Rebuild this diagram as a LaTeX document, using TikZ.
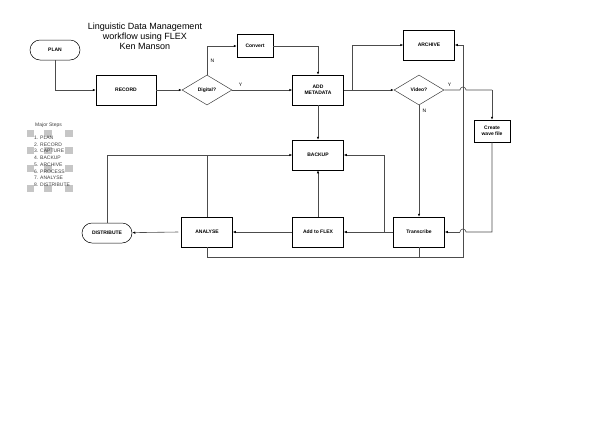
\documentclass[tikz,border=0pt]{standalone}
\usepackage{fontspec}
\setmainfont{Liberation Sans}
\usetikzlibrary{shapes.geometric,arrows.meta}
\begin{document}
\begin{tikzpicture}[x=1pt,y=-1pt,
  box/.style={draw,line width=0.5pt,minimum width=51pt,minimum height=30pt,font=\fontsize{5}{6}\selectfont\bfseries,align=center,inner sep=1pt},
  sbox/.style={box,minimum width=36pt,minimum height=23pt},
  term/.style={draw,line width=0.5pt,rounded corners=10pt,minimum width=50pt,minimum height=20pt,font=\fontsize{5}{6}\selectfont\bfseries},
  dec/.style={draw,gray!50!black,line width=0.5pt,diamond,aspect=1.7,minimum width=50pt,minimum height=30pt,inner sep=0pt,text=black,font=\fontsize{5}{6}\selectfont\bfseries},
  con/.style={draw=gray!60!black,line width=0.6pt,-{Latex[length=3pt,width=2.5pt,color=black]}},
  ln/.style={draw=gray!60!black,line width=0.6pt},
  lab/.style={font=\fontsize{5}{6}\selectfont}]
\useasboundingbox (0,0) rectangle (600,424);
\node[align=center,font=\fontsize{9}{10}\selectfont] (title) at (145,36) {Linguistic Data Management\\workflow using FLEX\\Ken Manson};
\node[term] (plan) at (55,50) {PLAN};
\node[box,minimum width=60pt] (record) at (126,90) {RECORD};
\node[dec] (dig) at (207,90) {Digital?};
\node[sbox] (conv) at (255,46) {Convert};
\node[box] (meta) at (318,90) {ADD\\METADATA};
\node[box] (arch) at (429,45) {ARCHIVE};
\node[dec] (vid) at (419,90) {Video?};
\node[sbox,minimum height=22pt] (wave) at (492,131) {Create\\wave file};
\node[box] (backup) at (318,155) {BACKUP};
\node[box] (flex) at (318,232) {Add to FLEX};
\node[box] (trans) at (419,232) {Transcribe};
\node[box] (anal) at (207,232) {ANALYSE};
\node[term] (dist) at (107,233) {DISTRIBUTE};
\foreach \y in {130,147,165,185}{\fill[gray!45] (27,\y) rectangle (34,\y+7);\fill[gray!45] (44,\y) rectangle (52,\y+7);\fill[gray!45] (65,\y) rectangle (73,\y+7);}
\node[align=left,anchor=north west,text=gray!50!black,inner sep=0pt,font=\fontsize{5}{6.7}\selectfont] (steps) at (34,123) {\hspace*{1pt}Major Steps\\[6pt]1. PLAN\\2. RECORD\\3. CAPTURE\\4. BACKUP\\5. ARCHIVE\\6. PROCESS\\7. ANALYSE\\8. DISTRIBUTE};
% connectors
\draw[con] (plan.south) |- (record.west);
\draw[con] (record) -- (dig);
\draw[con] (dig) -- node[lab,pos=0.05,above right]{Y} (meta);
\draw[con] (dig.north) |- node[lab,pos=0.25,right]{N} (conv.west);
\draw[con] (conv.east) -| (meta.north);
\draw[con] (meta) -- (vid);
\coordinate (br) at (352,90);
\draw[con] (br) |- (arch.west);
\coordinate (hop1) at (463,90);
\coordinate (hop2) at (463,232);
\draw[ln] (vid.east) node[lab,above right]{Y} -- ([xshift=-3pt]hop1) arc[start angle=180,end angle=0,radius=3pt] -- (wave.north |- hop1);
\draw[con] (wave.north |- hop1) -- (wave.north);
\draw[ln] (wave.south) -- (wave.south |- hop2) -- ([xshift=3pt]hop2) arc[start angle=0,end angle=180,radius=3pt];
\draw[con] ([xshift=-3pt]hop2) -- (trans.east);
\draw[con] (vid.south) node[lab,below right]{N} -- (trans.north);
\coordinate (bot) at (463,257);
\draw[con] (anal.south) |- (bot) -- (463,45) -- (arch.east);
\draw[ln] (trans.south) -- (trans.south |- bot);
\draw[con] (meta) -- (backup);
\draw[con] (flex) -- (backup);
\draw[con] (trans) -- (flex);
\draw[con] (384,232) |- (backup.east);
\draw[con] (flex) -- (anal);
\draw[con] ([xshift=-3pt]anal.west) -- (dist);
\draw[con] (dist.north) |- (backup.west);
\draw[ln] (anal.north) -- (anal.north |- backup.west);
\end{tikzpicture}
\end{document}
